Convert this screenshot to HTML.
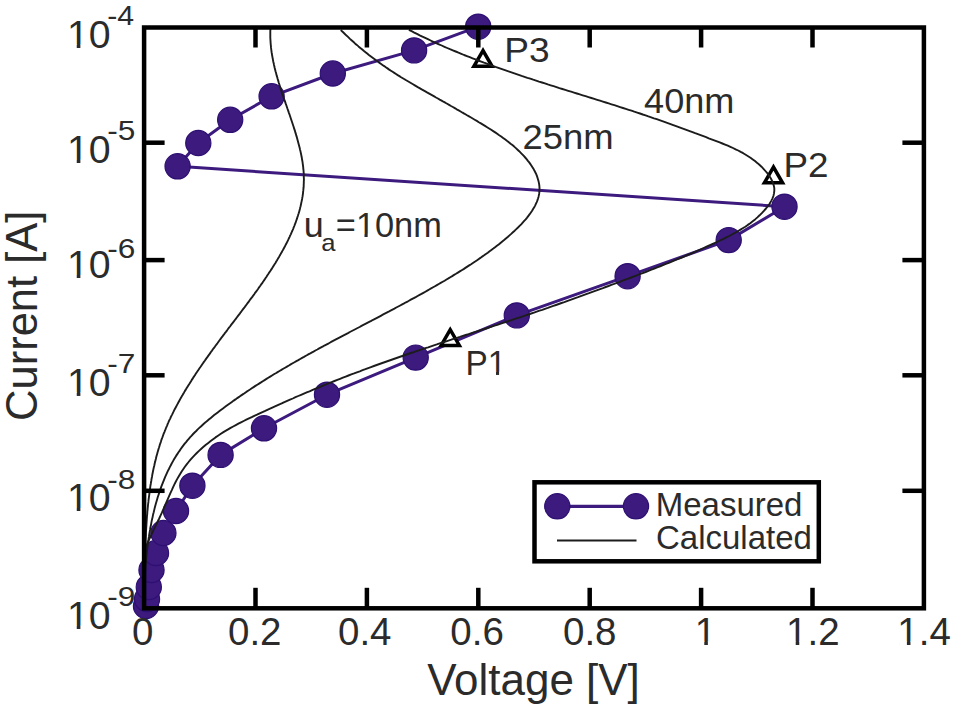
<!DOCTYPE html><html><head><meta charset="utf-8"><title>I-V characteristics</title><style>html,body{margin:0;padding:0;background:#fff;overflow:hidden}svg{display:block}div.w{width:955px;height:710px}text{font-family:"Liberation Sans",sans-serif;fill:#2b2b2b}</style></head><body>
<div class="w"><svg width="955" height="710" viewBox="0 0 955 710">
<rect width="955" height="710" fill="#fff"/>
<defs><clipPath id="cp"><rect x="144.1" y="27.5" width="779.8" height="580.8"/></clipPath></defs>
<polyline points="146.0,606.0 147.0,599.0 148.8,587.0 151.5,570.0 156.0,553.0 163.4,533.0 176.0,511.0 192.4,485.7 220.6,454.9 264.0,428.3 327.0,394.7 415.7,357.6 516.8,315.4 627.6,276.2 728.7,240.1 784.5,206.7 177.6,166.3 198.3,143.0 230.2,119.8 271.6,96.3 332.8,73.5 414.1,50.4 478.2,26.7" fill="none" stroke="#3c1a7e" stroke-width="3.0" stroke-linejoin="round"/>
<g fill="#3c1a7e" stroke="#2e0f72" stroke-width="1.2">
<circle cx="146.0" cy="606.0" r="12.60"/>
<circle cx="147.0" cy="599.0" r="12.60"/>
<circle cx="148.8" cy="587.0" r="12.60"/>
<circle cx="151.5" cy="570.0" r="12.60"/>
<circle cx="156.0" cy="553.0" r="12.60"/>
<circle cx="163.4" cy="533.0" r="12.60"/>
<circle cx="176.0" cy="511.0" r="12.60"/>
<circle cx="192.4" cy="485.7" r="12.60"/>
<circle cx="220.6" cy="454.9" r="12.60"/>
<circle cx="264.0" cy="428.3" r="12.60"/>
<circle cx="327.0" cy="394.7" r="12.60"/>
<circle cx="415.7" cy="357.6" r="12.60"/>
<circle cx="516.8" cy="315.4" r="12.60"/>
<circle cx="627.6" cy="276.2" r="12.60"/>
<circle cx="728.7" cy="240.1" r="12.60"/>
<circle cx="784.5" cy="206.7" r="12.60"/>
<circle cx="177.6" cy="166.3" r="12.60"/>
<circle cx="198.3" cy="143.0" r="12.60"/>
<circle cx="230.2" cy="119.8" r="12.60"/>
<circle cx="271.6" cy="96.3" r="12.60"/>
<circle cx="332.8" cy="73.5" r="12.60"/>
<circle cx="414.1" cy="50.4" r="12.60"/>
<circle cx="478.2" cy="26.7" r="12.60"/>
</g>
<g fill="#fff" stroke="#000" stroke-width="3.5" stroke-linejoin="miter">
<polygon points="483.00,50.59 473.90,66.35 492.10,66.35"/>
<polygon points="773.45,167.09 764.35,182.85 782.55,182.85"/>
<polygon points="450.25,329.69 441.15,345.45 459.35,345.45"/>
</g>
<g fill="none" stroke="#1c1c1c" stroke-width="1.90" stroke-linejoin="round" clip-path="url(#cp)">
<path d="M270.5,28.0 L270.4,29.6 L270.3,31.2 L270.3,32.9 L270.3,34.5 L270.3,36.1 L270.3,37.7 L270.4,39.3 L270.5,40.9 L270.6,42.5 L270.7,44.1 L270.9,45.8 L271.0,47.4 L271.2,49.0 L271.4,50.6 L271.6,52.2 L271.9,53.8 L272.1,55.3 L272.4,56.9 L272.7,58.5 L273.0,60.1 L273.3,61.7 L273.7,63.3 L274.0,64.9 L274.4,66.5 L274.7,68.0 L275.1,69.6 L275.5,71.2 L276.0,72.8 L276.4,74.4 L276.8,75.9 L277.3,77.5 L277.7,79.1 L278.2,80.6 L278.6,82.2 L279.1,83.8 L279.6,85.3 L280.1,86.9 L280.6,88.4 L281.1,90.0 L281.6,91.6 L282.1,93.1 L282.7,94.7 L283.2,96.2 L283.7,97.8 L284.2,99.3 L284.8,100.8 L285.3,102.4 L285.8,103.9 L286.4,105.5 L286.9,107.0 L287.4,108.5 L288.0,110.1 L288.5,111.6 L289.0,113.1 L289.6,114.7 L290.1,116.2 L290.6,117.7 L291.1,119.3 L291.6,120.8 L292.1,122.3 L292.6,123.8 L293.1,125.3 L293.6,126.8 L294.1,128.4 L294.6,129.9 L295.1,131.4 L295.5,132.9 L296.0,134.4 L296.4,135.9 L296.9,137.4 L297.3,138.9 L297.7,140.4 L298.1,141.9 L298.5,143.4 L298.9,144.9 L299.3,146.4 L299.7,147.9 L300.0,149.4 L300.4,150.9 L300.7,152.4 L301.0,153.8 L301.3,155.3 L301.6,156.8 L301.9,158.3 L302.1,159.8 L302.4,161.2 L302.6,162.7 L302.8,164.2 L303.0,165.7 L303.2,167.1 L303.3,168.6 L303.5,170.1 L303.6,171.5 L303.7,173.0 L303.8,174.5 L303.8,175.9 L303.8,177.4 L303.9,178.8 L303.9,180.3 L303.8,181.7 L303.8,183.2 L303.7,184.6 L303.7,186.1 L303.6,187.5 L303.4,189.0 L303.3,190.4 L303.1,191.9 L303.0,193.3 L302.8,194.7 L302.6,196.2 L302.3,197.6 L302.1,199.0 L301.8,200.5 L301.5,201.9 L301.2,203.3 L300.9,204.8 L300.6,206.2 L300.2,207.6 L299.9,209.0 L299.5,210.4 L299.1,211.9 L298.7,213.3 L298.2,214.7 L297.8,216.1 L297.3,217.5 L296.9,218.9 L296.4,220.3 L295.9,221.7 L295.4,223.2 L294.8,224.6 L294.3,226.0 L293.7,227.4 L293.2,228.8 L292.6,230.2 L292.0,231.5 L291.4,232.9 L290.8,234.3 L290.1,235.7 L289.5,237.1 L288.8,238.5 L288.2,239.9 L287.5,241.3 L286.8,242.7 L286.1,244.0 L285.4,245.4 L284.7,246.8 L283.9,248.2 L283.2,249.5 L282.4,250.9 L281.7,252.3 L280.9,253.6 L280.1,255.0 L279.3,256.4 L278.5,257.7 L277.7,259.1 L276.9,260.5 L276.1,261.8 L275.3,263.2 L274.4,264.5 L273.6,265.9 L272.7,267.2 L271.9,268.6 L271.0,269.9 L270.1,271.3 L269.2,272.6 L268.3,274.0 L267.4,275.3 L266.5,276.7 L265.6,278.0 L264.7,279.4 L263.8,280.7 L262.9,282.0 L262.0,283.4 L261.0,284.7 L260.1,286.0 L259.1,287.3 L258.2,288.7 L257.3,290.0 L256.3,291.3 L255.3,292.6 L254.4,294.0 L253.4,295.3 L252.5,296.6 L251.5,297.9 L250.5,299.2 L249.5,300.5 L248.6,301.9 L247.6,303.2 L246.6,304.5 L245.6,305.8 L244.7,307.1 L243.7,308.4 L242.7,309.7 L241.7,311.0 L240.7,312.3 L239.8,313.6 L238.8,314.9 L237.8,316.2 L236.8,317.5 L235.8,318.8 L234.9,320.0 L233.9,321.3 L232.9,322.6 L231.9,323.9 L230.9,325.2 L230.0,326.5 L229.0,327.7 L228.0,329.0 L227.1,330.3 L226.1,331.6 L225.1,332.8 L224.2,334.1 L223.2,335.4 L222.3,336.7 L221.3,337.9 L220.4,339.2 L219.4,340.5 L218.5,341.7 L217.6,343.0 L216.6,344.3 L215.7,345.5 L214.8,346.8 L213.8,348.1 L212.9,349.3 L212.0,350.6 L211.1,351.8 L210.2,353.1 L209.3,354.4 L208.4,355.6 L207.5,356.9 L206.6,358.1 L205.7,359.4 L204.8,360.7 L203.9,361.9 L203.0,363.2 L202.1,364.5 L201.3,365.7 L200.4,367.0 L199.5,368.2 L198.7,369.5 L197.8,370.8 L197.0,372.0 L196.1,373.3 L195.3,374.6 L194.5,375.8 L193.6,377.1 L192.8,378.4 L192.0,379.6 L191.2,380.9 L190.4,382.2 L189.6,383.5 L188.8,384.7 L188.0,386.0 L187.2,387.3 L186.4,388.6 L185.6,389.9 L184.8,391.1 L184.1,392.4 L183.3,393.7 L182.6,395.0 L181.8,396.3 L181.1,397.6 L180.3,398.9 L179.6,400.2 L178.9,401.5 L178.2,402.8 L177.5,404.1 L176.8,405.4 L176.1,406.7 L175.4,408.0 L174.7,409.3 L174.0,410.6 L173.4,411.9 L172.7,413.3 L172.1,414.6 L171.4,415.9 L170.8,417.2 L170.2,418.6 L169.5,419.9 L168.9,421.2 L168.3,422.6 L167.7,423.9 L167.2,425.3 L166.6,426.6 L166.0,428.0 L165.5,429.3 L164.9,430.7 L164.4,432.1 L163.8,433.4 L163.3,434.8 L162.8,436.2 L162.3,437.6 L161.8,438.9 L161.3,440.3 L160.9,441.7 L160.4,443.1 L159.9,444.5 L159.5,445.9 L159.1,447.3 L158.6,448.7 L158.2,450.2 L157.8,451.6 L157.4,453.0 L157.0,454.4 L156.6,455.8 L156.2,457.3 L155.9,458.7 L155.5,460.2 L155.2,461.6 L154.8,463.0 L154.5,464.5 L154.2,466.0 L153.8,467.4 L153.5,468.9 L153.2,470.3 L152.9,471.8 L152.6,473.3 L152.3,474.8 L152.1,476.2 L151.8,477.7 L151.5,479.2 L151.3,480.7 L151.0,482.2 L150.8,483.7 L150.5,485.2 L150.3,486.7 L150.1,488.2 L149.9,489.7 L149.7,491.2 L149.5,492.7 L149.3,494.3 L149.1,495.8 L148.9,497.3 L148.7,498.8 L148.5,500.4 L148.4,501.9 L148.2,503.4 L148.0,505.0 L147.9,506.5 L147.7,508.1 L147.6,509.6 L147.4,511.2 L147.3,512.8 L147.2,514.3 L147.0,515.9 L146.9,517.5 L146.8,519.0 L146.7,520.6 L146.6,522.2 L146.5,523.8 L146.4,525.4 L146.3,526.9 L146.2,528.5 L146.1,530.1 L146.0,531.7 L145.9,533.3 L145.9,534.9 L145.8,536.5 L145.7,538.2 L145.6,539.8 L145.6,541.4 L145.5,543.0 L145.5,544.6 L145.4,546.2 L145.4,547.9 L145.3,549.5 L145.3,551.1 L145.2,552.8 L145.2,554.4 L145.1,556.1 L145.1,557.7 L145.0,559.4 L145.0,561.0 L145.0,562.7 L144.9,564.3 L144.9,566.0 L144.9,567.6 L144.9,569.3 L144.8,571.0 L144.8,572.6 L144.8,574.3 L144.8,576.0 L144.7,577.7 L144.7,579.4 L144.7,581.0 L144.7,582.7 L144.7,584.4 L144.7,586.1 L144.6,587.8 L144.6,589.5 L144.6,591.2 L144.6,592.9 L144.6,594.6 L144.6,596.3 L144.5,598.0 L144.5,599.8 L144.5,601.5 L144.5,603.2 L144.5,604.9"/>
<path d="M340.8,30.0 L342.6,31.8 L344.4,33.5 L346.2,35.3 L348.0,36.9 L349.7,38.6 L351.5,40.2 L353.3,41.8 L355.0,43.4 L356.8,44.9 L358.5,46.4 L360.3,47.9 L362.0,49.3 L363.7,50.8 L365.5,52.2 L367.2,53.5 L368.9,54.9 L370.6,56.2 L372.3,57.5 L374.0,58.8 L375.7,60.1 L377.4,61.3 L379.1,62.6 L380.8,63.8 L382.5,65.0 L384.2,66.1 L385.8,67.3 L387.5,68.4 L389.2,69.6 L390.9,70.7 L392.6,71.8 L394.3,72.9 L396.0,74.0 L397.7,75.1 L399.4,76.1 L401.1,77.2 L402.8,78.2 L404.5,79.2 L406.2,80.3 L407.9,81.3 L409.6,82.3 L411.3,83.3 L413.0,84.3 L414.8,85.4 L416.5,86.4 L418.2,87.4 L420.0,88.4 L421.7,89.4 L423.5,90.4 L425.3,91.4 L427.0,92.4 L428.8,93.4 L430.6,94.4 L432.4,95.4 L434.2,96.4 L436.0,97.5 L437.9,98.5 L439.7,99.6 L441.6,100.6 L443.4,101.7 L445.3,102.7 L447.2,103.8 L449.1,104.9 L451.0,106.0 L452.9,107.0 L454.8,108.1 L456.7,109.3 L458.7,110.4 L460.6,111.5 L462.6,112.7 L464.6,113.8 L466.6,115.0 L468.6,116.1 L470.6,117.3 L472.7,118.5 L474.7,119.7 L476.8,120.9 L478.8,122.2 L480.9,123.4 L482.9,124.6 L485.0,125.9 L487.1,127.2 L489.1,128.5 L491.2,129.8 L493.2,131.1 L495.2,132.4 L497.2,133.8 L499.2,135.2 L501.2,136.5 L503.1,137.9 L505.0,139.3 L506.9,140.8 L508.8,142.2 L510.6,143.7 L512.4,145.1 L514.2,146.6 L515.9,148.1 L517.6,149.7 L519.2,151.2 L520.8,152.8 L522.3,154.3 L523.8,155.9 L525.2,157.5 L526.6,159.1 L527.9,160.8 L529.2,162.4 L530.4,164.1 L531.5,165.7 L532.6,167.4 L533.6,169.1 L534.5,170.8 L535.4,172.5 L536.2,174.2 L536.9,175.9 L537.5,177.7 L538.0,179.4 L538.5,181.1 L538.9,182.9 L539.2,184.6 L539.4,186.4 L539.5,188.1 L539.5,189.9 L539.4,191.6 L539.2,193.4 L538.9,195.1 L538.5,196.9 L538.0,198.6 L537.4,200.4 L536.7,202.1 L535.9,203.9 L535.1,205.6 L534.2,207.3 L533.1,209.1 L532.1,210.8 L530.9,212.5 L529.7,214.2 L528.4,215.9 L527.1,217.6 L525.7,219.3 L524.2,220.9 L522.7,222.6 L521.2,224.3 L519.6,225.9 L518.0,227.5 L516.3,229.1 L514.7,230.7 L512.9,232.3 L511.2,233.9 L509.5,235.4 L507.7,237.0 L505.9,238.5 L504.1,240.0 L502.3,241.4 L500.5,242.9 L498.7,244.4 L496.9,245.8 L495.1,247.2 L493.3,248.6 L491.4,250.0 L489.6,251.3 L487.8,252.7 L485.9,254.0 L484.1,255.3 L482.2,256.6 L480.4,257.9 L478.5,259.2 L476.7,260.5 L474.8,261.7 L472.9,263.0 L471.1,264.2 L469.2,265.4 L467.3,266.6 L465.4,267.9 L463.6,269.1 L461.7,270.2 L459.8,271.4 L457.9,272.6 L456.0,273.8 L454.1,274.9 L452.2,276.1 L450.3,277.2 L448.4,278.4 L446.5,279.5 L444.6,280.7 L442.7,281.8 L440.7,282.9 L438.8,284.0 L436.9,285.1 L435.0,286.2 L433.1,287.3 L431.1,288.4 L429.2,289.5 L427.3,290.6 L425.4,291.7 L423.4,292.8 L421.5,293.9 L419.6,294.9 L417.6,296.0 L415.7,297.1 L413.8,298.1 L411.8,299.2 L409.9,300.2 L408.0,301.3 L406.0,302.3 L404.1,303.4 L402.2,304.4 L400.2,305.5 L398.3,306.5 L396.3,307.5 L394.4,308.6 L392.5,309.6 L390.5,310.6 L388.6,311.7 L386.7,312.7 L384.7,313.7 L382.8,314.7 L380.8,315.8 L378.9,316.8 L377.0,317.8 L375.0,318.8 L373.1,319.8 L371.2,320.9 L369.2,321.9 L367.3,322.9 L365.4,323.9 L363.4,324.9 L361.5,325.9 L359.6,327.0 L357.6,328.0 L355.7,329.0 L353.8,330.0 L351.8,331.0 L349.9,332.0 L348.0,333.1 L346.1,334.1 L344.1,335.1 L342.2,336.1 L340.3,337.1 L338.4,338.1 L336.4,339.2 L334.5,340.2 L332.6,341.2 L330.7,342.2 L328.8,343.3 L326.8,344.3 L324.9,345.3 L323.0,346.4 L321.1,347.4 L319.2,348.4 L317.3,349.5 L315.4,350.5 L313.5,351.6 L311.6,352.6 L309.7,353.7 L307.8,354.7 L305.9,355.8 L304.0,356.9 L302.1,357.9 L300.2,359.0 L298.3,360.1 L296.4,361.1 L294.5,362.2 L292.6,363.3 L290.7,364.4 L288.9,365.5 L287.0,366.6 L285.1,367.7 L283.2,368.8 L281.4,369.9 L279.5,371.0 L277.6,372.1 L275.8,373.2 L273.9,374.3 L272.0,375.5 L270.2,376.6 L268.3,377.8 L266.5,378.9 L264.6,380.1 L262.8,381.2 L261.0,382.4 L259.1,383.6 L257.3,384.7 L255.4,385.9 L253.6,387.1 L251.8,388.3 L250.0,389.5 L248.1,390.7 L246.3,391.9 L244.5,393.2 L242.7,394.4 L240.9,395.6 L239.1,396.9 L237.3,398.1 L235.5,399.4 L233.7,400.6 L231.9,401.9 L230.1,403.2 L228.3,404.5 L226.5,405.8 L224.8,407.1 L223.0,408.4 L221.2,409.7 L219.5,411.0 L217.7,412.4 L216.0,413.7 L214.2,415.1 L212.5,416.5 L210.8,417.9 L209.1,419.3 L207.4,420.7 L205.8,422.1 L204.1,423.5 L202.5,425.0 L200.9,426.5 L199.3,427.9 L197.7,429.4 L196.2,431.0 L194.6,432.5 L193.1,434.0 L191.7,435.6 L190.2,437.2 L188.8,438.8 L187.4,440.4 L186.1,442.1 L184.7,443.7 L183.4,445.4 L182.1,447.1 L180.9,448.8 L179.7,450.6 L178.5,452.3 L177.3,454.1 L176.1,455.9 L175.0,457.7 L173.9,459.6 L172.9,461.4 L171.8,463.3 L170.8,465.2 L169.8,467.1 L168.9,469.0 L167.9,470.9 L167.0,472.9 L166.1,474.8 L165.2,476.8 L164.4,478.8 L163.6,480.8 L162.8,482.8 L162.0,484.9 L161.2,486.9 L160.5,489.0 L159.8,491.0 L159.1,493.1 L158.4,495.2 L157.7,497.3 L157.1,499.4 L156.5,501.5 L155.9,503.6 L155.3,505.8 L154.7,507.9 L154.2,510.1 L153.7,512.2 L153.1,514.4 L152.7,516.6 L152.2,518.8 L151.7,520.9 L151.3,523.1 L150.9,525.3 L150.4,527.5 L150.1,529.7 L149.7,531.9 L149.3,534.1 L149.0,536.4 L148.6,538.6 L148.3,540.8 L148.0,543.0 L147.7,545.2 L147.4,547.5 L147.1,549.7 L146.9,551.9 L146.6,554.1 L146.4,556.3 L146.1,558.6 L145.9,560.8 L145.7,563.0 L145.5,565.2 L145.3,567.4 L145.2,569.6 L145.0,571.8 L144.8,574.0 L144.7,576.2 L144.5,578.4 L144.4,580.6 L144.3,582.8 L144.2,584.9 L144.1,587.1 L143.9,589.3 L143.8,591.4 L143.8,593.5 L143.7,595.7 L143.6,597.8 L143.5,599.9"/>
<path d="M408.9,29.8 L411.6,31.2 L414.3,32.6 L417.0,33.9 L419.7,35.3 L422.4,36.6 L425.2,37.9 L427.9,39.2 L430.6,40.5 L433.4,41.8 L436.1,43.1 L438.9,44.3 L441.7,45.5 L444.5,46.8 L447.2,48.0 L450.0,49.2 L452.8,50.3 L455.7,51.5 L458.5,52.7 L461.3,53.8 L464.1,55.0 L466.9,56.1 L469.8,57.2 L472.6,58.3 L475.5,59.4 L478.3,60.5 L481.2,61.6 L484.0,62.7 L486.9,63.7 L489.8,64.8 L492.7,65.8 L495.5,66.9 L498.4,67.9 L501.3,68.9 L504.2,69.9 L507.1,70.9 L510.0,71.9 L512.9,72.9 L515.8,73.9 L518.7,74.9 L521.6,75.9 L524.5,76.8 L527.4,77.8 L530.3,78.7 L533.2,79.7 L536.1,80.6 L539.0,81.6 L542.0,82.5 L544.9,83.4 L547.8,84.4 L550.7,85.3 L553.6,86.2 L556.5,87.1 L559.4,88.1 L562.3,89.0 L565.3,89.9 L568.2,90.8 L571.1,91.7 L574.0,92.6 L576.9,93.5 L579.8,94.4 L582.7,95.3 L585.6,96.2 L588.5,97.1 L591.4,98.0 L594.3,98.9 L597.2,99.8 L600.0,100.7 L602.9,101.6 L605.8,102.5 L608.7,103.4 L611.5,104.3 L614.4,105.2 L617.3,106.2 L620.1,107.1 L623.0,108.0 L625.8,108.9 L628.7,109.8 L631.5,110.7 L634.3,111.7 L637.2,112.6 L640.0,113.5 L642.8,114.5 L645.6,115.4 L648.4,116.4 L651.2,117.3 L654.0,118.3 L656.8,119.2 L659.5,120.2 L662.3,121.2 L665.1,122.2 L667.8,123.1 L670.6,124.1 L673.3,125.1 L676.1,126.1 L678.8,127.1 L681.5,128.1 L684.3,129.1 L687.0,130.1 L689.7,131.1 L692.5,132.1 L695.2,133.2 L697.9,134.2 L700.6,135.2 L703.4,136.2 L706.1,137.2 L708.8,138.3 L711.5,139.3 L714.3,140.3 L717.0,141.3 L719.7,142.4 L722.4,143.5 L725.1,144.6 L727.8,145.7 L730.4,146.8 L733.0,148.0 L735.6,149.3 L738.2,150.5 L740.7,151.9 L743.2,153.2 L745.7,154.7 L748.1,156.2 L750.5,157.7 L752.8,159.4 L755.0,161.1 L757.2,162.9 L759.4,164.8 L761.5,166.7 L763.5,168.8 L765.4,171.0 L767.3,173.2 L769.0,175.6 L770.6,178.0 L771.9,180.5 L773.0,183.0 L773.8,185.6 L774.3,188.1 L774.3,190.8 L774.0,193.4 L773.4,196.0 L772.4,198.6 L771.1,201.1 L769.6,203.7 L767.8,206.1 L766.0,208.5 L763.9,210.9 L761.8,213.1 L759.6,215.3 L757.4,217.4 L755.1,219.4 L752.7,221.3 L750.3,223.2 L747.8,224.9 L745.3,226.7 L742.7,228.3 L740.1,229.9 L737.4,231.5 L734.7,233.0 L732.0,234.5 L729.2,236.0 L726.4,237.4 L723.6,238.8 L720.8,240.1 L717.9,241.5 L715.1,242.8 L712.2,244.1 L709.4,245.4 L706.5,246.7 L703.6,248.0 L700.7,249.3 L697.9,250.5 L695.0,251.8 L692.1,253.1 L689.2,254.3 L686.3,255.5 L683.4,256.8 L680.5,258.0 L677.6,259.2 L674.6,260.4 L671.7,261.6 L668.8,262.8 L665.9,263.9 L663.0,265.1 L660.1,266.3 L657.2,267.4 L654.3,268.6 L651.4,269.7 L648.5,270.8 L645.6,272.0 L642.7,273.1 L639.8,274.2 L636.9,275.3 L634.0,276.4 L631.2,277.5 L628.3,278.6 L625.4,279.6 L622.6,280.7 L619.8,281.8 L616.9,282.8 L614.1,283.9 L611.3,284.9 L608.5,286.0 L605.7,287.0 L602.9,288.1 L600.1,289.1 L597.3,290.1 L594.5,291.1 L591.7,292.1 L589.0,293.2 L586.2,294.2 L583.5,295.2 L580.7,296.2 L578.0,297.2 L575.2,298.1 L572.5,299.1 L569.7,300.1 L567.0,301.1 L564.3,302.1 L561.5,303.0 L558.8,304.0 L556.0,305.0 L553.3,305.9 L550.5,306.9 L547.8,307.9 L545.0,308.8 L542.3,309.8 L539.5,310.7 L536.7,311.7 L534.0,312.6 L531.2,313.5 L528.4,314.5 L525.6,315.4 L522.8,316.4 L520.0,317.3 L517.2,318.2 L514.3,319.2 L511.5,320.1 L508.7,321.0 L505.8,322.0 L503.0,322.9 L500.1,323.8 L497.3,324.8 L494.4,325.7 L491.6,326.6 L488.7,327.5 L485.9,328.5 L483.0,329.4 L480.1,330.3 L477.2,331.3 L474.4,332.2 L471.5,333.1 L468.6,334.1 L465.7,335.0 L462.8,335.9 L459.9,336.9 L457.0,337.8 L454.2,338.7 L451.3,339.7 L448.4,340.6 L445.5,341.6 L442.6,342.5 L439.7,343.4 L436.8,344.4 L433.9,345.3 L431.0,346.3 L428.2,347.3 L425.3,348.2 L422.4,349.2 L419.5,350.1 L416.6,351.1 L413.8,352.1 L410.9,353.0 L408.0,354.0 L405.1,355.0 L402.3,356.0 L399.4,357.0 L396.6,358.0 L393.7,359.0 L390.9,360.0 L388.0,361.0 L385.2,362.0 L382.3,363.0 L379.5,364.0 L376.7,365.0 L373.9,366.0 L371.0,367.1 L368.2,368.1 L365.4,369.2 L362.6,370.2 L359.8,371.3 L356.9,372.3 L354.1,373.4 L351.3,374.4 L348.5,375.5 L345.7,376.6 L342.9,377.7 L340.1,378.8 L337.3,379.9 L334.5,381.0 L331.7,382.1 L329.0,383.2 L326.2,384.3 L323.4,385.5 L320.6,386.6 L317.8,387.8 L315.0,388.9 L312.2,390.1 L309.5,391.3 L306.7,392.4 L303.9,393.6 L301.1,394.8 L298.3,396.0 L295.5,397.2 L292.8,398.5 L290.0,399.7 L287.2,400.9 L284.4,402.1 L281.7,403.4 L278.9,404.6 L276.1,405.9 L273.4,407.1 L270.6,408.4 L267.9,409.6 L265.2,410.9 L262.5,412.1 L259.7,413.4 L257.0,414.7 L254.3,415.9 L251.7,417.2 L249.0,418.4 L246.3,419.7 L243.7,421.0 L241.0,422.4 L238.4,423.7 L235.8,425.1 L233.2,426.5 L230.6,427.9 L228.1,429.4 L225.5,430.9 L223.0,432.4 L220.5,434.0 L218.0,435.7 L215.5,437.4 L213.1,439.2 L210.7,441.0 L208.3,442.9 L205.9,444.8 L203.5,446.8 L201.3,448.8 L199.0,450.9 L196.8,453.0 L194.7,455.2 L192.6,457.4 L190.5,459.7 L188.6,462.0 L186.7,464.4 L184.9,466.8 L183.2,469.3 L181.5,471.7 L180.0,474.3 L178.5,476.8 L177.0,479.4 L175.6,482.0 L174.3,484.7 L173.0,487.4 L171.8,490.1 L170.5,492.8 L169.3,495.6 L168.1,498.4 L166.9,501.2 L165.6,504.1 L164.4,506.9 L163.1,509.8 L161.9,512.7 L160.5,515.6 L159.2,518.5 L157.7,521.5 L156.3,524.4 L154.9,527.4 L153.4,530.4 L152.0,533.4 L150.6,536.4 L149.2,539.4 L147.8,542.4 L146.5,545.4 L145.2,548.4 L144.1,551.4 L143.0,554.4 L142.1,557.4 L141.3,560.4 L140.6,563.4 L140.1,566.4 L139.8,569.4 L139.7,572.3 L139.7,575.3 L140.1,578.2 L140.6,581.2 L141.5,584.1 L142.6,587.0 L144.0,589.9"/>
</g>
<g stroke="#000" stroke-width="4.5" fill="none" stroke-linecap="butt">
<rect x="144.1" y="27.5" width="779.8" height="580.8"/>
<line x1="255.5" y1="608.3" x2="255.5" y2="587.8"/>
<line x1="255.5" y1="27.5" x2="255.5" y2="47.5"/>
<line x1="366.9" y1="608.3" x2="366.9" y2="587.8"/>
<line x1="366.9" y1="27.5" x2="366.9" y2="47.5"/>
<line x1="478.3" y1="608.3" x2="478.3" y2="587.8"/>
<line x1="478.3" y1="27.5" x2="478.3" y2="47.5"/>
<line x1="589.7" y1="608.3" x2="589.7" y2="587.8"/>
<line x1="589.7" y1="27.5" x2="589.7" y2="47.5"/>
<line x1="701.1" y1="608.3" x2="701.1" y2="587.8"/>
<line x1="701.1" y1="27.5" x2="701.1" y2="47.5"/>
<line x1="812.5" y1="608.3" x2="812.5" y2="587.8"/>
<line x1="812.5" y1="27.5" x2="812.5" y2="47.5"/>
<line x1="144.1" y1="142.7" x2="164.6" y2="142.7"/>
<line x1="923.9" y1="142.7" x2="902.4" y2="142.7"/>
<line x1="144.1" y1="260.1" x2="164.6" y2="260.1"/>
<line x1="923.9" y1="260.1" x2="902.4" y2="260.1"/>
<line x1="144.1" y1="375.3" x2="164.6" y2="375.3"/>
<line x1="923.9" y1="375.3" x2="902.4" y2="375.3"/>
<line x1="144.1" y1="490.8" x2="164.6" y2="490.8"/>
<line x1="923.9" y1="490.8" x2="902.4" y2="490.8"/>
</g>
<rect x="534.5" y="482.3" width="284.3" height="79" fill="#fff" stroke="#000" stroke-width="4.5"/>
<line x1="557.3" y1="506.3" x2="636" y2="506.3" stroke="#3c1a7e" stroke-width="3.3"/>
<circle cx="557.3" cy="506.3" r="12.60" fill="#3c1a7e" stroke="#2e0f72" stroke-width="1.2"/><circle cx="636" cy="506.3" r="12.60" fill="#3c1a7e" stroke="#2e0f72" stroke-width="1.2"/>
<line x1="557" y1="540.4" x2="636.5" y2="540.4" stroke="#1c1c1c" stroke-width="2"/>
<g transform="translate(66.94,48.00) scale(1.021,1)"><text font-size="38.5">10</text><rect x="1.98" y="-3.45" width="7.62" height="4.95" fill="#fff"/><rect x="13.16" y="-3.45" width="7.94" height="4.95" fill="#fff"/><rect x="9.40" y="0.05" width="4.14" height="1.50" fill="#fff"/></g>
<g transform="translate(107.30,24.60) scale(1.100,1)"><text font-size="27.5">-4</text></g>
<g transform="translate(66.94,163.20) scale(1.021,1)"><text font-size="38.5">10</text><rect x="1.98" y="-3.45" width="7.62" height="4.95" fill="#fff"/><rect x="13.16" y="-3.45" width="7.94" height="4.95" fill="#fff"/><rect x="9.40" y="0.05" width="4.14" height="1.50" fill="#fff"/></g>
<g transform="translate(107.25,139.90) scale(1.150,1)"><text font-size="27.5">-5</text></g>
<g transform="translate(66.94,278.40) scale(1.021,1)"><text font-size="38.5">10</text><rect x="1.98" y="-3.45" width="7.62" height="4.95" fill="#fff"/><rect x="13.16" y="-3.45" width="7.94" height="4.95" fill="#fff"/><rect x="9.40" y="0.05" width="4.14" height="1.50" fill="#fff"/></g>
<g transform="translate(107.25,257.80) scale(1.150,1)"><text font-size="27.5">-6</text></g>
<g transform="translate(66.94,395.90) scale(1.021,1)"><text font-size="38.5">10</text><rect x="1.98" y="-3.45" width="7.62" height="4.95" fill="#fff"/><rect x="13.16" y="-3.45" width="7.94" height="4.95" fill="#fff"/><rect x="9.40" y="0.05" width="4.14" height="1.50" fill="#fff"/></g>
<g transform="translate(107.25,372.90) scale(1.150,1)"><text font-size="27.5">-7</text></g>
<g transform="translate(66.94,511.40) scale(1.021,1)"><text font-size="38.5">10</text><rect x="1.98" y="-3.45" width="7.62" height="4.95" fill="#fff"/><rect x="13.16" y="-3.45" width="7.94" height="4.95" fill="#fff"/><rect x="9.40" y="0.05" width="4.14" height="1.50" fill="#fff"/></g>
<g transform="translate(107.25,488.50) scale(1.150,1)"><text font-size="27.5">-8</text></g>
<g transform="translate(66.94,629.20) scale(1.021,1)"><text font-size="38.5">10</text><rect x="1.98" y="-3.45" width="7.62" height="4.95" fill="#fff"/><rect x="13.16" y="-3.45" width="7.94" height="4.95" fill="#fff"/><rect x="9.40" y="0.05" width="4.14" height="1.50" fill="#fff"/></g>
<g transform="translate(107.25,606.00) scale(1.150,1)"><text font-size="27.5">-9</text></g>
<g transform="translate(427.20,695.00) scale(1.011,1)"><text font-size="43.5">Voltage [V]</text></g>
<g transform="translate(504.17,61.70) scale(1.076,1)"><text font-size="34.5">P3</text></g>
<g transform="translate(783.49,176.50) scale(1.068,1)"><text font-size="34.5">P2</text></g>
<g transform="translate(465.39,374.90) scale(0.968,1)"><text font-size="34.5">P1</text><rect x="24.70" y="-3.14" width="6.91" height="4.64" fill="#fff"/><rect x="34.80" y="-3.14" width="7.26" height="4.64" fill="#fff"/><rect x="31.43" y="0.05" width="3.71" height="1.50" fill="#fff"/></g>
<g transform="translate(644.07,112.80) scale(1.032,1)"><text font-size="35">40nm</text></g>
<g transform="translate(522.42,149.40) scale(1.041,1)"><text font-size="35">25nm</text></g>
<g transform="translate(303.85,237.00) scale(1.027,1)"><text font-size="35">u</text></g>
<g transform="translate(321.33,251.00) scale(1.067,1)"><text font-size="24">a</text></g>
<g transform="translate(335.84,237.00) scale(0.982,1)"><text font-size="35">=10nm</text><rect x="22.17" y="-3.18" width="7.00" height="4.68" fill="#fff"/><rect x="32.40" y="-3.18" width="7.35" height="4.68" fill="#fff"/><rect x="28.98" y="0.05" width="3.76" height="1.50" fill="#fff"/></g>
<g transform="translate(655.69,516.30)"><text font-size="33">Measured</text></g>
<g transform="translate(656.00,549.20)"><text font-size="33">Calculated</text></g>
<g transform="translate(132.00,645.00)"><text font-size="38.5">0</text></g>
<g transform="translate(228.00,645.00)"><text font-size="38.5">0.2</text></g>
<g transform="translate(338.00,645.00)"><text font-size="38.5">0.4</text></g>
<g transform="translate(450.30,645.00)"><text font-size="38.5">0.6</text></g>
<g transform="translate(563.00,645.00)"><text font-size="38.5">0.8</text></g>
<g transform="translate(694.70,645.00)"><text font-size="38.5">1</text><rect x="1.98" y="-3.45" width="7.62" height="4.95" fill="#fff"/><rect x="13.16" y="-3.45" width="7.94" height="4.95" fill="#fff"/><rect x="9.40" y="0.05" width="4.14" height="1.50" fill="#fff"/></g>
<g transform="translate(786.10,645.00)"><text font-size="38.5">1.2</text><rect x="1.98" y="-3.45" width="7.62" height="4.95" fill="#fff"/><rect x="13.16" y="-3.45" width="7.94" height="4.95" fill="#fff"/><rect x="9.40" y="0.05" width="4.14" height="1.50" fill="#fff"/></g>
<g transform="translate(897.30,645.00)"><text font-size="38.5">1.4</text><rect x="1.98" y="-3.45" width="7.62" height="4.95" fill="#fff"/><rect x="13.16" y="-3.45" width="7.94" height="4.95" fill="#fff"/><rect x="9.40" y="0.05" width="4.14" height="1.50" fill="#fff"/></g>
<text transform="translate(37.0,420.90) rotate(-90) scale(1.000,1)" font-size="43.5">Current [A]</text>
</svg></div></body></html>
